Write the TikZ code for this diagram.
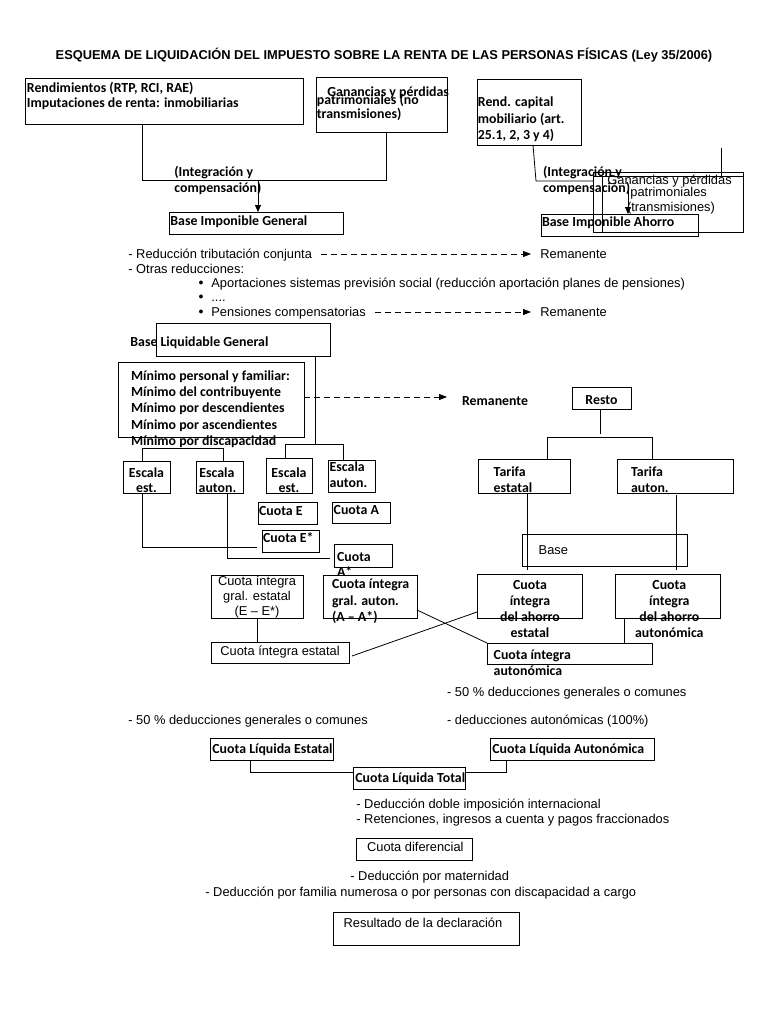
\documentclass[tikz,border=0pt]{standalone}
\usepackage{fontspec}
\setmainfont{Liberation Sans}
\newfontfamily\calfont{Carlito}
\usetikzlibrary{arrows.meta}
\begin{document}
\begin{tikzpicture}[x=1bp,y=-1bp, line width=0.8bp,
  bx/.style={draw, inner sep=0pt, outer sep=0pt, anchor=north west},
  ar/.style={font=\fontsize{12.9}{15}\selectfont, inner sep=0pt, anchor=base west},
  arc/.style={font=\fontsize{12.9}{15}\selectfont, inner sep=0pt, anchor=base},
  cb/.style={font=\calfont\bfseries\fontsize{13.9}{16}\selectfont, inner sep=0pt, anchor=base west},
  cbc/.style={font=\calfont\bfseries\fontsize{13.9}{16}\selectfont, inner sep=0pt, anchor=base},
  bul/.style={font=\fontsize{9}{10}\selectfont, inner sep=0pt},
  tip/.style={-{Triangle[length=7bp,width=6bp]}},
  dsh/.style={dash pattern=on 6bp off 4bp, -{Triangle[length=8bp,width=6bp]}}]
\useasboundingbox[fill=white] (0,0) rectangle (768,1024);
% title
\node[font=\bfseries\fontsize{12.9}{15}\selectfont, inner sep=0pt, anchor=base] (title) at (384,59)
  {ESQUEMA DE LIQUIDACIÓN DEL IMPUESTO SOBRE LA RENTA DE LAS PERSONAS FÍSICAS (Ley 35/2006)};
% top boxes
\node[bx, minimum width=278bp, minimum height=46bp] (rend) at (25,78) {};
\node[cb] (rend1) at (26.5,92) {Rendimientos (RTP, RCI, RAE)};
\node[cb] (rend2) at (26.5,107.5) {Imputaciones de renta: inmobiliarias};
\node[bx, minimum width=131bp, minimum height=55bp] (gan) at (316,77) {};
\node[cb] (gan1) at (327,96.5) {Ganancias y pérdidas};
\node[cb] (gan2) at (316.5,104) {patrimoniales (no};
\node[cb] (gan3) at (316.5,118.3) {transmisiones)};
\node[bx, minimum width=104bp, minimum height=66bp] (rcm) at (477,79) {};
\node[cb] (rcm1) at (477.5,106) {Rend. capital};
\node[cb] (rcm2) at (477.5,123.3) {mobiliario (art.};
\node[cb] (rcm3) at (477.5,139) {25.1, 2, 3 y 4)};
% integration left
\draw (rend.south -| 142,0) -- (142,180) -| (gan.south -| 386,0);
\node[cb] (int1) at (174,176.7) {(Integración y};
\node[cb] (int2) at (174,192.3) {compensación)};
\node[bx, minimum width=174bp, minimum height=22bp] (big) at (169,212) {};
\node[cb] (bigt) at (170,225.3) {Base Imponible General};
\draw[tip] (258,180) -- (big.north -| 258,0);
% integration right
\node[bx, minimum width=150bp, minimum height=60bp] (gan2b) at (593,172) {};
\draw (602,176) -- (602,232);
\draw (593,176) -- (743,176);
\draw (rcm.south -| 533,0) -- (536,181) -- (593,181);
\draw (721,148) -- (721,176);
\node[ar] (gant1) at (607,184.3) {Ganancias y pérdidas};
\node[ar] (gant2) at (630,196.7) {patrimoniales};
\node[ar] (gant3) at (626.7,211.7) {(transmisiones)};
\node[cb] (intr1) at (542.7,176.7) {(Integración y};
\node[cb] (intr2) at (542.7,192.3) {compensación)};
\node[bx, minimum width=157bp, minimum height=22bp] (bia) at (541,214) {};
\node[cb] (biat) at (541.7,226.7) {Base Imponible Ahorro};
\draw[tip] (628,185) -- (bia.north -| 628,0);
% reductions
\node[ar] (red1) at (128,258.5) {- Reducción tributación conjunta};
\node[ar] (rem1) at (540,258.5) {Remanente};
\coordinate (r1a) at ([xshift=9bp]red1.east);
\coordinate (r1b) at ([xshift=-9bp]rem1.west);
\draw[dsh] (r1a |- 0,254) -- (r1b |- 0,254);
\node[ar] (red2) at (128,273.5) {- Otras reducciones:};
\node[bul] (b1) at (201,283.5) {●};
\node[ar] (ap) at (211,287.5) {Aportaciones sistemas previsión social (reducción aportación planes de pensiones)};
\node[bul] (b2) at (201,297.5) {●};
\node[ar] (dots) at (211,301.5) {....};
\node[bul] (b3) at (201,312.5) {●};
\node[ar] (pens) at (211,316.5) {Pensiones compensatorias};
\node[ar] (rem2) at (540,316.5) {Remanente};
\coordinate (r2a) at ([xshift=9bp]pens.east);
\coordinate (r2b) at ([xshift=-9bp]rem2.west);
\draw[dsh] (r2a |- 0,312) -- (r2b |- 0,312);
% base liquidable
\node[bx, minimum width=174bp, minimum height=33bp] (blg) at (156,323) {};
\node[cb] (blgt) at (130,346.7) {Base Liquidable General};
\node[bx, minimum width=186bp, minimum height=75bp] (min) at (118,362) {};
\node[cb] (m1) at (130.7,380) {Mínimo personal y familiar:};
\node[cb] (m2) at (130.7,396) {Mínimo del contribuyente};
\node[cb] (m3) at (130.7,412.7) {Mínimo por descendientes};
\node[cb] (m4) at (130.7,429.3) {Mínimo por ascendientes};
\node[cb] (m5) at (130.7,445) {Mínimo por discapacidad};
\node[cb] (rem3) at (461.7,405) {Remanente};
\draw[dsh] (min.east |- 0,397) -- (447,397);
\node[bx, minimum width=59bp, minimum height=22bp] (resto) at (572,387) {};
\node[cbc] (restot) at (601.5,404.5) {Resto};
% escala boxes
\node[bx, minimum width=47bp, minimum height=32bp] (e1) at (123,461) {};
\node[bx, minimum width=47bp, minimum height=32bp] (a1) at (196,461) {};
\node[bx, minimum width=46bp, minimum height=35bp] (e2) at (266,458) {};
\node[bx, minimum width=47bp, minimum height=32bp] (a2) at (328,460) {};
\node[cbc] (e1a) at (146.5,477.3) {Escala};
\node[cbc] (e1b) at (146.5,492.7) {est.};
\node[cb] (a1a) at (199,477.3) {Escala};
\node[cb] (a1b) at (198.3,492.7) {auton.};
\node[cbc] (e2a) at (289,477.3) {Escala};
\node[cbc] (e2b) at (289,492.7) {est.};
\node[cb] (a2a) at (329.3,471.7) {Escala};
\node[cb] (a2b) at (329.3,487.7) {auton.};
\draw (e1.north -| 142,0) -- (142,448) -- (223,448) -- (a1.north -| 223,0);
\draw (blg.south -| 315,0) -- (315,444);
\draw (e2.north -| 285,0) -- (285,444) -- (343,444) -- (a2.north -| 343,0);
% tarifas
\draw (resto.south -| 600,0) -- (600,434);
\node[bx, minimum width=92bp, minimum height=34bp] (te) at (478,459) {};
\node[bx, minimum width=116bp, minimum height=34bp] (ta) at (617,459) {};
\draw (te.north -| 547,0) -- (547,437) -- (652,437) -- (ta.north -| 652,0);
\node[cb] (tet1) at (493.3,476.7) {Tarifa};
\node[cb] (tet2) at (493.3,492.3) {estatal};
\node[cb] (tat1) at (630.7,476.7) {Tarifa};
\node[cb] (tat2) at (630.7,492.3) {auton.};
% cuotas
\node[bx, minimum width=59bp, minimum height=22bp] (ce) at (258,502) {};
\node[cb] (cet) at (258.7,515) {Cuota E};
\node[bx, minimum width=58bp, minimum height=21bp] (ca) at (332,502) {};
\node[cb] (cat) at (333.3,514) {Cuota A};
\node[bx, minimum width=57bp, minimum height=22bp] (ces) at (262,530) {};
\node[cb] (cest) at (262.7,542.7) {Cuota E*};
\node[bx, minimum width=58bp, minimum height=23bp] (cas) at (334,544) {};
\node[cb] (cast1) at (336.7,561.7) {Cuota};
\node[cb] (cast2) at (336.7,576) {A*};
\draw (e1.south -| 142,0) -- (142,547) -- (257,547);
\draw (a1.south -| 227,0) -- (227,558) -- (330,558);
% base ahorro
\node[bx, minimum width=165bp, minimum height=32bp] (base) at (522,534) {};
\node[ar] (baset) at (538.3,554.3) {Base};
\draw (te.south -| 527,0) -- (527,570);
\draw (676,495) -- (676,570);
% cuota integra boxes
\node[bx, minimum width=92bp, minimum height=43bp] (cige) at (211,575) {};
\node[arc] (cige1) at (257,585) {Cuota íntegra};
\node[arc] (cige2) at (257,600.7) {gral. estatal};
\node[arc] (cige3) at (257,615) {(E – E*)};
\node[bx, minimum width=94bp, minimum height=43bp] (ciga) at (323,575) {};
\node[cb] (ciga1) at (331.7,588.3) {Cuota íntegra};
\node[cb] (ciga2) at (331.7,605) {gral. auton.};
\node[cb] (ciga3) at (331.7,621) {(A – A*)};
\node[bx, minimum width=105bp, minimum height=44bp] (cae) at (477,574) {};
\node[cbc] (cae1) at (530,589) {Cuota};
\node[cbc] (cae2) at (530,605) {íntegra};
\node[cbc] (cae3) at (530,621) {del ahorro};
\node[cbc] (cae4) at (530,637.3) {estatal};
\node[bx, minimum width=105bp, minimum height=44bp] (caa) at (615,574) {};
\node[cbc] (caa1) at (669.3,589) {Cuota};
\node[cbc] (caa2) at (669.3,605) {íntegra};
\node[cbc] (caa3) at (669.3,621) {del ahorro};
\node[cbc] (caa4) at (669.3,637.3) {autonómica};
\node[bx, minimum width=138bp, minimum height=21bp] (cie) at (211,642) {};
\node[ar] (ciet) at (220,655.7) {Cuota íntegra estatal};
\node[bx, minimum width=165bp, minimum height=21bp] (cia) at (487,643) {};
\node[cb] (ciat1) at (493.3,659.3) {Cuota íntegra};
\node[cb] (ciat2) at (493.3,675.7) {autonómica};
\draw (cige.south -| 257,0) -- (cie.north -| 257,0);
\draw (352,656) -- (cae.west |- 0,612);
\draw (417,610) -- (cia.north west);
\draw (caa.south -| 624,0) -- (cia.north -| 624,0);
% deductions
\node[ar] (d1) at (446.7,696.7) {- 50 \% deducciones generales o comunes};
\node[ar] (d2) at (128,724) {- 50 \% deducciones generales o comunes};
\node[ar] (d3) at (446.7,724) {- deducciones autonómicas (100\%)};
% cuotas liquidas
\node[bx, minimum width=123bp, minimum height=22bp] (cle) at (210,738) {};
\node[cb] (clet) at (212,753) {Cuota Líquida Estatal};
\node[bx, minimum width=164bp, minimum height=22bp] (cla) at (490,738) {};
\node[cb] (clat) at (492,753) {Cuota Líquida Autonómica};
\node[bx, minimum width=112bp, minimum height=22bp] (clt) at (353,767) {};
\node[cb] (cltt) at (355,782) {Cuota Líquida Total};
\draw (cle.south -| 250,0) -- (250,772) -- (clt.west |- 0,772);
\draw (cla.south -| 506,0) -- (506,772) -- (clt.east |- 0,772);
% final
\node[ar] (f1) at (356,808) {- Deducción doble imposición internacional};
\node[ar] (f2) at (356,823.3) {- Retenciones, ingresos a cuenta y pagos fraccionados};
\node[bx, minimum width=116bp, minimum height=22bp] (cdif) at (356,838.3) {};
\node[ar] (cdift) at (366.7,851) {Cuota diferencial};
\node[ar] (f3) at (350,880.7) {- Deducción por maternidad};
\node[ar] (f4) at (205,896) {- Deducción por familia numerosa o por personas con discapacidad a cargo};
\node[bx, minimum width=186bp, minimum height=33bp] (res) at (333.3,912.7) {};
\node[ar] (rest) at (343.3,927.3) {Resultado de la declaración};
\end{tikzpicture}
\end{document}
